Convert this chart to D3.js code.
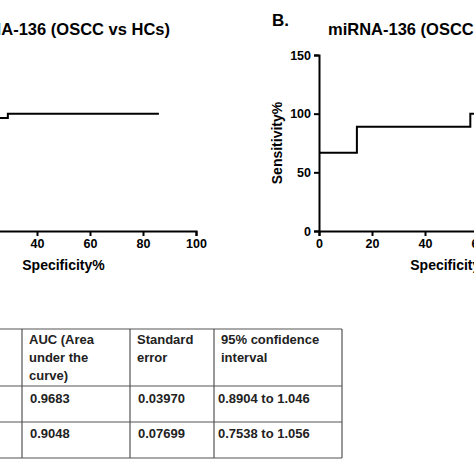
<!DOCTYPE html>
<html><head><meta charset="utf-8">
<script src="https://cdn.jsdelivr.net/npm/d3@7"></script>
<style>body{margin:0;background:#fff}text{font-family:Arial,"Liberation Sans",sans-serif}</style>
</head><body><svg id="c" width="474" height="474"></svg>
<script>
// ROC curve points (specificity%, sensitivity%)
const rocA = [[0, 96.3], [29, 100], [86, 100]];
const rocB = [[0, 66.7], [14.3, 88.9], [57.1, 100], [86, 100]];
const xTicks = [0, 20, 40, 60, 80, 100];
const yTicks = [0, 50, 100, 150];
const tableHead = ["", "AUC  (Area|under the|curve)", "Standard|error", "95% confidence|interval"];
const tableRows = [
  ["", "0.9683", "0.03970", "0.8904 to 1.046"],
  ["", "0.9048", "0.07699", "0.7538 to 1.056"]
];

const svg = d3.select('#c');
const y = d3.scaleLinear().domain([0, 150]).range([231, 55]);

function panel(x0, data, title, titleX, anchor, showY, label) {
  const x = d3.scaleLinear().domain([0, 100]).range([x0, x0 + 265]);
  const g = svg.append('g');
  const xa = g.append('g').attr('transform', 'translate(0,231)')
    .call(d3.axisBottom(x).tickValues(xTicks).tickSize(5).tickPadding(3));
  xa.selectAll('path,line').attr('stroke', '#000').attr('stroke-width', 2);
  xa.selectAll('text').attr('font-size', 12.5).attr('font-weight', 'bold').attr('fill', '#000');
  if (showY) {
    const ya = g.append('g').attr('transform', `translate(${x0},0)`)
      .call(d3.axisLeft(y).tickValues(yTicks).tickSize(5).tickPadding(3));
    ya.selectAll('path,line').attr('stroke', '#000').attr('stroke-width', 2);
    ya.selectAll('text').attr('font-size', 12.5).attr('font-weight', 'bold').attr('fill', '#000');
    g.append('text').attr('transform', `translate(${x0 - 37},143) rotate(-90)`)
      .attr('text-anchor', 'middle').attr('font-size', 14).attr('font-weight', 'bold').text('Sensitivity%');
  }
  g.append('path').datum(data)
    .attr('d', d3.line().x(d => x(d[0])).y(d => y(d[1])).curve(d3.curveStepAfter))
    .attr('fill', 'none').attr('stroke', '#000').attr('stroke-width', 2);
  g.append('text').attr('x', x(50)).attr('y', 270).attr('text-anchor', 'middle')
    .attr('font-size', 14).attr('font-weight', 'bold').text('Specificity%');
  g.append('text').attr('x', titleX).attr('y', 35).attr('text-anchor', anchor)
    .attr('font-size', 16.5).attr('font-weight', 'bold').text(title);
  if (label) g.append('text').attr('x', 272).attr('y', 26).attr('font-size', 17).attr('font-weight', 'bold').text(label);
}

panel(-69, rocA, 'miRNA-136 (OSCC vs HCs)', 170, 'end', false);
panel(319, rocB, 'miRNA-136 (OSCC vs OPMDs)', 328, 'start', true, 'B.');

// table
const colX = [-90, 22, 130, 214, 342];
const rowY = [329, 386, 422, 458];
const t = svg.append('g').attr('stroke', '#555').attr('stroke-width', 1.2);
rowY.forEach(v => t.append('line').attr('x1', colX[0]).attr('x2', colX[4]).attr('y1', v).attr('y2', v));
colX.forEach(v => t.append('line').attr('x1', v).attr('x2', v).attr('y1', rowY[0]).attr('y2', rowY[3]));
tableHead.forEach((h, i) => {
  h.split('|').forEach((s, k) => {
    svg.append('text').attr('x', colX[i] + 7).attr('y', 344 + k * 18).attr('font-size', 13)
      .attr('font-weight', 'bold').attr('fill', '#222').text(s);
  });
});
tableRows.forEach((r, j) => r.forEach((s, i) => {
  svg.append('text').attr('x', colX[i] + (i === 3 ? 4 : 8)).attr('y', [403, 438][j])
    .attr('font-size', 13).attr('font-weight', 'bold').attr('fill', '#222').text(s);
}));
</script></body></html>
